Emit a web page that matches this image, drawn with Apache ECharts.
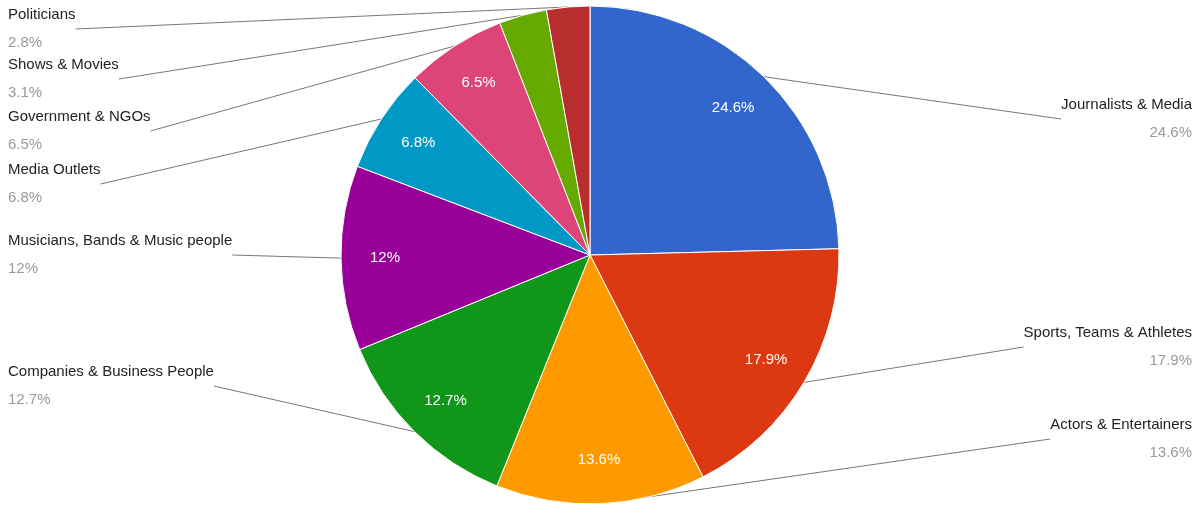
<!DOCTYPE html>
<html>
<head>
<meta charset="utf-8">
<script src="https://cdn.jsdelivr.net/npm/echarts@6/dist/echarts.min.js"></script>
<style>html,body{margin:0;padding:0;background:#fff}#chart{width:1200px;height:513px}</style>
</head>
<body>
<div id="chart"></div>
<script>
// categories and values, clockwise from 12 o'clock
const categories = [
  "Journalists & Media",
  "Sports, Teams & Athletes",
  "Actors & Entertainers",
  "Companies & Business People",
  "Musicians, Bands & Music people",
  "Media Outlets",
  "Government & NGOs",
  "Shows & Movies",
  "Politicians"
];
const shares = [24.6, 17.9, 13.6, 12.7, 12, 6.8, 6.5, 3.1, 2.8];
const colors = ["#3366cc", "#dc3912", "#ff9900", "#109618", "#990099", "#0099c6", "#dd4477", "#66aa00", "#b82e2e"];
// vertical placement of outside label blocks (styling only)
const labelY = [119, 347, 439, 386, 255, 184, 131, 79, 29];

const pieData = categories.map((name, i) => ({ name: name, value: shares[i] }));
const chart = echarts.init(document.getElementById("chart"));
const font = "Arial, 'Liberation Sans', sans-serif";

chart.setOption({
  color: colors,
  animation: false,
  series: [
    {
      type: "pie",
      center: [590, 255],
      radius: [0, 249],
      startAngle: 90,
      clockwise: true,
      itemStyle: { borderColor: "#fff", borderWidth: 1 },
      label: {
        position: "outside",
        alignTo: "edge",
        edgeDistance: 8,
        fontFamily: font,
        formatter: (p) => "{n|" + p.name + "}\n{v|" + p.value + "%}",
        rich: {
          n: { fontSize: 15, color: "#222", fontFamily: font, lineHeight: 28 },
          v: { fontSize: 15, color: "#999", fontFamily: font, lineHeight: 28 }
        }
      },
      labelLayout: (p) => ({ y: labelY[p.dataIndex] }),
      labelLine: { length: 10, length2: 0, lineStyle: { color: "#777", width: 1 } },
      emphasis: { disabled: true },
      data: pieData
    },
    {
      // inner percentage labels
      type: "pie",
      center: [590, 255],
      radius: [155, 249],
      startAngle: 90,
      clockwise: true,
      silent: true,
      itemStyle: { color: "transparent" },
      label: {
        position: "inside",
        color: "#fff",
        fontSize: 15,
        fontFamily: font,
        formatter: (p) => (p.value >= 5 ? p.value + "%" : "")
      },
      labelLine: { show: false },
      data: pieData
    }
  ]
});
</script>
</body>
</html>
